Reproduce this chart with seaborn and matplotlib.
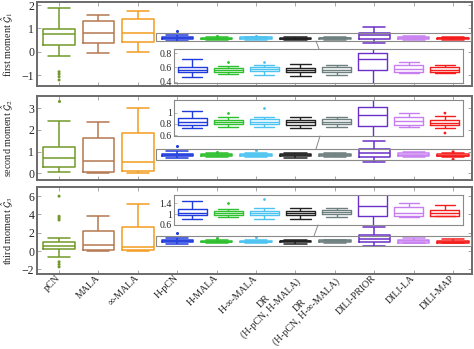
import numpy as np
import pandas as pd
import matplotlib
matplotlib.use("Agg")
import matplotlib.pyplot as plt
import seaborn as sns
from matplotlib.patches import Rectangle
from matplotlib.lines import Line2D
from matplotlib.ticker import FormatStrFormatter

# ---------------- data ----------------
methods = ["pCN", "MALA", "∞-MALA", "H-pCN", "H-MALA", "H-∞-MALA",
           "DR\n(H-pCN, H-MALA)", "DR\n(H-pCN, H-∞-MALA)",
           "DILI-PRIOR", "DILI-LA", "DILI-MAP"]
colors = ["#73982a", "#b5764f", "#f39c1f", "#1f3bdc", "#2ec02e", "#4cc3f0",
          "#222222", "#6e7f7f", "#6a2fc9", "#c77ff0", "#f51c1c"]

# five-number summaries [whisker_low, q1, median, q3, whisker_high]
g1_summary = [[-0.17, 0.29, 0.75, 0.96, 1.86],
              [-0.04, 0.36, 0.82, 1.32, 1.57],
              [-0.03, 0.43, 0.79, 1.39, 1.76],
              [0.46, 0.53, 0.57, 0.61, 0.72],
              [0.51, 0.535, 0.56, 0.59, 0.62],
              [0.50, 0.55, 0.58, 0.61, 0.64],
              [0.48, 0.53, 0.56, 0.59, 0.65],
              [0.50, 0.535, 0.57, 0.60, 0.64],
              [0.36, 0.56, 0.72, 0.81, 1.07],
              [0.52, 0.53, 0.58, 0.63, 0.68],
              [0.52, 0.54, 0.57, 0.60, 0.63]]
g1_outliers = [[-0.86, -0.96, -1.07, -1.21], [], [], [0.89], [0.68], [0.68],
               [], [], [], [], []]

g2_summary = [[0.05, 0.28, 0.72, 1.23, 2.43],
              [0.0, 0.08, 0.57, 1.64, 2.38],
              [0.0, 0.12, 0.51, 1.85, 3.0],
              [0.72, 0.78, 0.84, 0.90, 1.02],
              [0.75, 0.80, 0.83, 0.87, 0.92],
              [0.74, 0.80, 0.84, 0.88, 0.92],
              [0.72, 0.78, 0.83, 0.87, 0.93],
              [0.75, 0.80, 0.84, 0.88, 0.92],
              [0.54, 0.77, 0.95, 1.10, 1.50],
              [0.75, 0.78, 0.85, 0.92, 0.99],
              [0.73, 0.78, 0.82, 0.87, 0.94]]
g2_outliers = [[3.35], [], [], [1.25], [0.99], [1.08], [], [], [], [], [0.99, 0.64]]

g3_summary = [[-0.69, 0.18, 0.55, 0.95, 1.39],
              [0.0, 0.1, 0.65, 2.2, 3.83],
              [0.0, 0.1, 0.4, 2.65, 5.1],
              [0.81, 0.96, 1.06, 1.19, 1.48],
              [0.90, 0.96, 1.04, 1.12, 1.21],
              [0.84, 0.96, 1.04, 1.13, 1.22],
              [0.81, 0.96, 1.06, 1.13, 1.23],
              [0.90, 0.99, 1.07, 1.17, 1.22],
              [0.58, 0.95, 1.31, 1.75, 2.66],
              [0.90, 0.93, 1.06, 1.25, 1.42],
              [0.92, 0.93, 1.04, 1.14, 1.33]]
g3_outliers = [[6.0, 3.8, 3.6, 3.4, -1.17, -1.45, -1.72], [], [], [1.93], [1.40], [1.58],
               [], [], [], [], []]

ylabels = [r"first moment $\hat{\mathcal{G}}_1$",
           r"second moment $\hat{\mathcal{G}}_2$",
           r"third moment $\hat{\mathcal{G}}_3$"]
main_yticks = [[-1, 0, 1, 2], [0, 1, 2, 3], [-2, 0, 2, 4, 6]]
inset_yticks = [[0.4, 0.6, 0.8], [0.6, 0.8, 1.0], [0.6, 1.0, 1.4]]

# ---------------- style ----------------
sns.set_style("ticks")
plt.rcParams["font.family"] = ["Liberation Serif", "DejaVu Serif"]
plt.rcParams["mathtext.fontset"] = "stix"

W, H = 474, 349
fig = plt.figure(figsize=(W / 100, H / 100), dpi=100)
pal = dict(zip(methods, colors))


def rect(l, t, r, b):
    return [l / W, 1 - b / H, (r - l) / W, (b - t) / H]


main_geo = [(37, 2, 472, 86), (37, 96, 472, 180), (37, 187, 472, 274)]
main_ylim = [(-1.47, 2.13), (-0.31, 3.57), (-2.5, 7.0)]
inset_geo = [(174, 49, 463, 83), (174, 100, 463, 136), (174, 195, 463, 225)]
inset_ylim = [(0.382, 0.86), (0.588, 1.22), (0.6, 1.71)]
zoom_box = [(0.47, 0.82), (0.61, 1.11), (0.58, 1.64)]
connectors = [((316, 41), (319, 49)), ((320, 136), (316, 149)), ((318, 225), (314, 236))]

summaries = [g1_summary, g2_summary, g3_summary]
outliers = [g1_outliers, g2_outliers, g3_outliers]
spine_col = "#6a6a6a"


def draw(ax, order, summary, outl, lw, fs):
    df = pd.DataFrame([(m, v) for m, s in zip(order, summary) for v in s],
                      columns=["method", "value"])
    sns.boxplot(data=df, x="method", y="value", hue="method", order=order,
                hue_order=order, palette=pal, fill=False, whis=(0, 100),
                width=0.8, linewidth=lw, showfliers=False, legend=False,
                capwidths=0.56, ax=ax)
    od = pd.DataFrame([(m, v) for m, s in zip(order, outl) for v in s],
                      columns=["method", "value"])
    sns.stripplot(data=od, x="method", y="value", hue="method", order=order,
                  hue_order=order, palette=pal, jitter=False, size=fs,
                  linewidth=0, legend=False, ax=ax)


for i in range(3):
    ax = fig.add_axes(rect(*main_geo[i]))
    draw(ax, methods, summaries[i], outliers[i], 1.1, 2.2)
    ax.set_xlim(-0.56, 10.48)
    ax.set_ylim(*main_ylim[i])
    ax.set_yticks(main_yticks[i])
    ax.set_xticks(range(len(methods)))
    ax.set_xlabel("")
    ax.set_ylabel(ylabels[i], fontsize=7.3)
    ax.yaxis.set_label_coords(-0.05, 0.5)
    for s in ax.spines.values():
        s.set_color(spine_col)
        s.set_linewidth(1.4)
    ax.tick_params(direction="in", length=3, width=0.6, color="#999999",
                   top=True, right=True, labelsize=8.5, pad=2)
    if i < 2:
        ax.set_xticklabels([])
    else:
        ax.set_xticklabels(methods, rotation=45, ha="right", va="center",
                           rotation_mode="anchor", fontsize=7.1)
        for t in ax.get_xticklabels():
            t.set_multialignment("center")
            t.set_linespacing(1.0)
        ax.tick_params(axis="x", pad=2)
    lo, hi = zoom_box[i]
    ax.add_patch(Rectangle((2.46, lo), 10.45 - 2.46, hi - lo, fill=False,
                           ec="#8a8a8a", lw=0.8, zorder=5))

    ins = fig.add_axes(rect(*inset_geo[i]))
    draw(ins, methods[3:], [s for s in summaries[i][3:]], outliers[i][3:], 1.0, 2.0)
    ins.set_xlim(-0.5, 7.5)
    ins.set_ylim(*inset_ylim[i])
    ins.set_yticks(inset_yticks[i])
    ins.yaxis.set_major_formatter(FormatStrFormatter("%g"))
    ins.set_xticks([])
    ins.set_xlabel("")
    ins.set_ylabel("")
    ins.set_facecolor("white")
    for s in ins.spines.values():
        s.set_color("#8a8a8a")
        s.set_linewidth(0.8)
    ins.tick_params(axis="y", direction="in", length=2, width=0.5,
                    color="#999999", labelsize=7, pad=1.5)

    (x0, y0), (x1, y1) = connectors[i]
    fig.add_artist(Line2D([x0 / W, x1 / W], [1 - y0 / H, 1 - y1 / H],
                          color="#8a8a8a", lw=0.7))

fig.savefig("out.png", dpi=100)
